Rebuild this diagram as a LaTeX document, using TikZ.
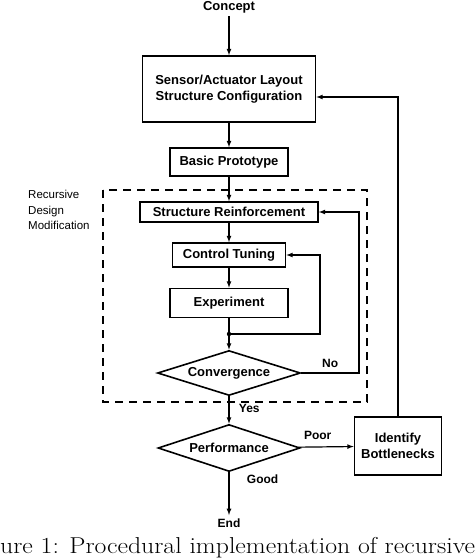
\documentclass[tikz,border=0pt]{standalone}
\usepackage{fontspec}
\newfontfamily\chartfont{Liberation Sans}
\usetikzlibrary{shapes.geometric,positioning}

\begin{document}
\begin{tikzpicture}[x=1pt,y=-1pt,
  stepbox/.style={draw,line width=1.6pt,inner sep=0pt,align=center,
    font=\chartfont\bfseries\fontsize{13}{16}\selectfont},
  decision/.style={diamond,draw,line width=1.6pt,inner sep=0pt,aspect=3.1,
    font=\chartfont\bfseries\fontsize{13}{16}\selectfont},
  tag/.style={font=\chartfont\bfseries\fontsize{12}{14}\selectfont},
  flow/.style={-latex,line width=1.2pt}]
  \useasboundingbox (0,0) rectangle (474,559);

  % main column
  \node[tag,font=\chartfont\bfseries\fontsize{13}{15}\selectfont] (concept) at (229,7) {Concept};
  \node[stepbox,minimum width=173pt,minimum height=66pt] (layout) at (229,89)
    {Sensor/Actuator Layout\\Structure Configuration};
  \node[stepbox,minimum width=118pt,minimum height=28pt] (proto) at (229,162) {Basic Prototype};

  % recursive loop
  \draw[dashed,dash pattern=on 8pt off 6pt,line width=1.2pt] (103,190) rectangle (367,402);
  \node[anchor=north west,align=left,inner sep=0pt,
    font=\chartfont\fontsize{11.5}{15.5}\selectfont] (recur) at (28,190)
    {Recursive\\Design\\Modification};
  \node[stepbox,minimum width=178pt,minimum height=20pt] (reinf) at (229,212) {Structure Reinforcement};
  \node[stepbox,minimum width=113pt,minimum height=24pt] (tuning) at (229,255) {Control Tuning};
  \node[stepbox,minimum width=118pt,minimum height=29pt] (exper) at (229,303) {Experiment};
  \coordinate (join) at (229,334);
  \coordinate (joinR) at (320,334);
  \node[decision,minimum width=143pt,minimum height=45pt] (conv) at (229,373) {Convergence};
  \coordinate (convR) at (359,373);

  % performance check
  \node[decision,minimum width=142pt,minimum height=47pt] (perf) at (229,448) {Performance};
  \node[stepbox,minimum width=87pt,minimum height=58pt] (neck) at (398,446) {Identify\\Bottlenecks};
  \node[tag] (finish) at (229,523) {End};

  \path[flow,draw]
  (concept) edge (layout)
  (layout) edge (proto)
  (proto) edge (reinf)
  (reinf) edge (tuning)
  (tuning) edge (exper);

  \draw[line width=1.2pt] (exper) -- (join);
  \fill (join) circle (2.2pt);
  \draw[flow] (join) -- (conv);
  \draw[flow] (join) -- (joinR) |- (tuning);
  \draw[flow] (conv) -- node[tag,above=1pt,pos=0.5]{No} (convR) |- (reinf);
  \draw[flow] (conv) -- node[tag,right=6pt,pos=0.45]{Yes} (perf);
  \draw[flow] (perf) -- node[tag,above=3pt,pos=0.35]{Poor} (neck);
  \draw[flow] (perf) -- node[tag,right=14pt,pos=0.15]{Good} (finish);
  \draw[flow] (neck) |- ([yshift=-8pt]layout.east);

  % caption
  \node[anchor=base west,inner sep=0pt,font=\fontsize{23}{26}\selectfont] (caption) at (0,553)
    {\scalebox{1.12}[1]{ure 1: Procedural implementation of recursive}};
\end{tikzpicture}
\end{document}
